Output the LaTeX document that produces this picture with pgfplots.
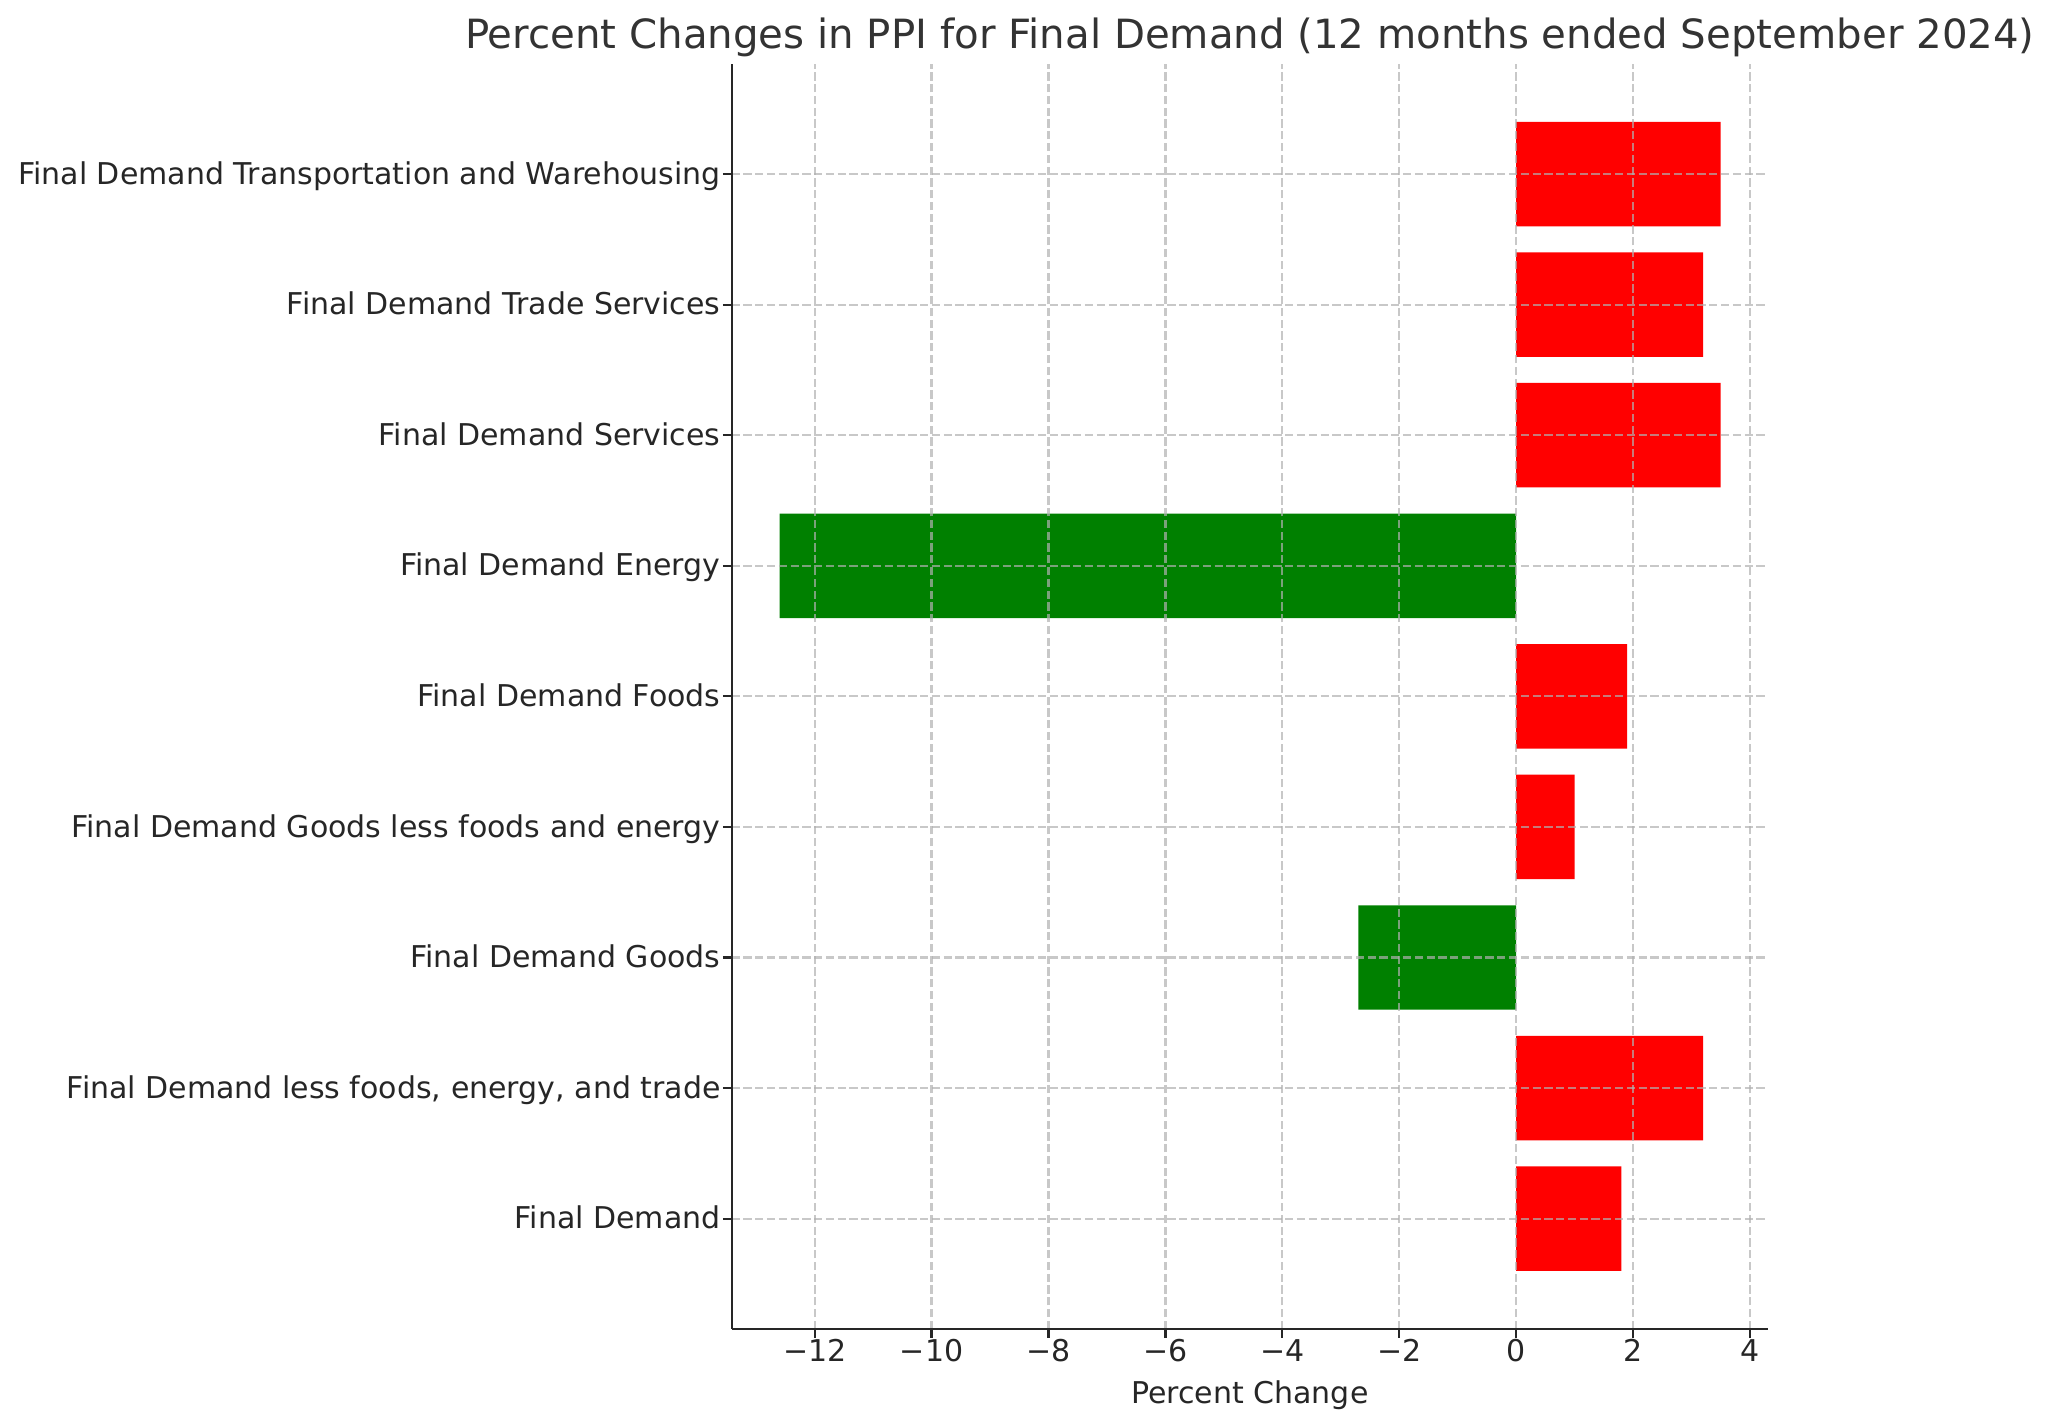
\documentclass[border=0pt]{standalone}
\usepackage{fontspec}
\setmainfont{DejaVu Sans}
\usepackage{pgfplots}
\pgfplotsset{compat=1.18}

\definecolor{txt}{HTML}{262626}
\definecolor{ttl}{HTML}{333333}
\definecolor{gridc}{HTML}{B0B0B0}
\definecolor{barred}{HTML}{FF0000}
\definecolor{bargreen}{HTML}{008000}

\begin{document}
\begin{tikzpicture}
  % page = 2048x1425 px at 0.36 bp per px
  \useasboundingbox (-263.4bp,-34.56bp) rectangle (473.88bp,478.44bp);
  \begin{axis}[
      at={(0,0)}, anchor=south west,
      scale only axis, width=373.1bp, height=455.5bp,
      xbar, bar width=0.8, bar shift=0pt,
      xmin=-13.42, xmax=4.31,
      ymin=-0.845, ymax=8.845,
      axis x line*=bottom, axis y line*=left,
      axis line style={-, line width=0.8bp, color=txt},
      xtick={-12,-10,...,4},
      xticklabels={−12,−10,−8,−6,−4,−2,0,2,4},
      ytick={0,...,8},
      yticklabels={
        Final Demand,
        {Final Demand less foods, energy, and trade},
        Final Demand Goods,
        Final Demand Goods less foods and energy,
        Final Demand Foods,
        Final Demand Energy,
        Final Demand Services,
        Final Demand Trade Services,
        Final Demand Transportation and Warehousing},
      tick align=outside, major tick length=3.2bp,
      tick style={line width=0.8bp, color=txt},
      ticklabel style={font=\fontsize{10.8bp}{13bp}\selectfont, color=txt, inner sep=0pt},
      xticklabel style={yshift=-0.4bp},
      yticklabel style={anchor=base east, xshift=-0.6bp, yshift=-0.365em},
      grid=major,
      major grid style={line width=0.8bp, color=gridc, opacity=0.7,
        dash pattern=on 2.96bp off 1.28bp},
      axis on top,
      title={Percent Changes in PPI for Final Demand (12 months ended September 2024)},
      every axis title/.style={at={(0.5,1)}, anchor=base, yshift=5.3bp, inner sep=0pt,
        font=\fontsize{14.5bp}{17bp}\selectfont, color=ttl},
      xlabel={Percent Change},
      xlabel style={font=\fontsize{10.8bp}{13bp}\selectfont, color=txt, inner sep=0pt, yshift=-6.6bp},
    ]
    % rises
    \addplot[fill=barred, draw=none] coordinates {
      (1.8,0) (3.2,1) (1.0,3) (1.9,4) (3.5,6) (3.2,7) (3.5,8)
    };
    % falls
    \addplot[fill=bargreen, draw=none] coordinates {
      (-2.7,2) (-12.6,5)
    };
  \end{axis}
\end{tikzpicture}
\end{document}
